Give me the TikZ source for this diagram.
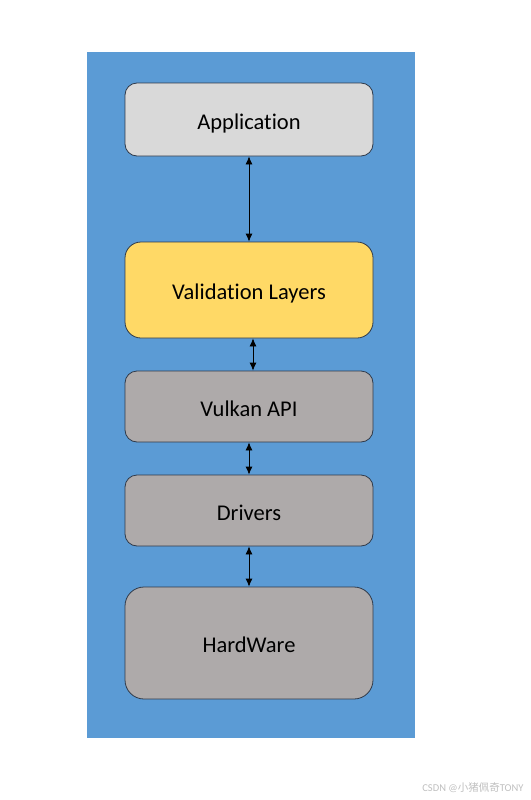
\documentclass[tikz,border=0pt]{standalone}
\usepackage{fontspec}
\setmainfont{Carlito}[Ligatures=NoCommon]
\newfontfamily\cjkfont{Noto Sans CJK SC}
\usetikzlibrary{arrows.meta}

\definecolor{bgblue}{HTML}{5B9BD5}
\definecolor{appgrey}{HTML}{D9D9D9}
\definecolor{valyellow}{HTML}{FFD966}
\definecolor{layergrey}{HTML}{AEAAAA}
\definecolor{edgecol}{HTML}{2F3A4A}

\begin{document}
\begin{tikzpicture}[x=1pt, y=-1pt,
    layer/.style={draw=edgecol, line width=0.8pt, minimum width=248pt, inner sep=0pt,
      font=\fontsize{22.5}{27}\selectfont, text height=19pt, text depth=0pt},
    link/.style={line width=0.8pt, arrows={Latex[length=8pt,width=7pt]-Latex[length=8pt,width=7pt]}}]
    \useasboundingbox (0, 0) rectangle (530, 800);
    \fill[bgblue] (87, 52) rectangle (415, 738);
    \node[layer, fill=appgrey, minimum height=73pt, rounded corners=12pt] (app) at (249, 119.5) {Application};
    \node[layer, fill=valyellow, minimum height=96pt, rounded corners=16pt] (val) at (249, 290) {Validation Layers};
    \node[layer, fill=layergrey, minimum height=71pt, rounded corners=12pt] (vk) at (249, 406.5) {Vulkan API};
    \node[layer, fill=layergrey, minimum height=71pt, rounded corners=12pt] (drv) at (249, 510.5) {Drivers};
    \node[layer, fill=layergrey, minimum height=112pt, rounded corners=19pt] (hw) at (249, 643) {HardWare};
    \draw[link] (app) -- (val);
    \draw[link] ([xshift=4pt]val.south) -- ([xshift=4pt]vk.north);
    \draw[link] (vk) -- (drv);
    \draw[link] (drv) -- (hw);
    \node[text=black!25, font=\fontsize{10.5}{12}\selectfont, anchor=east] (mark) at (527, 788) {CSDN @\cjkfont 小猪佩奇\normalfont TONY};
\end{tikzpicture}
\end{document}
